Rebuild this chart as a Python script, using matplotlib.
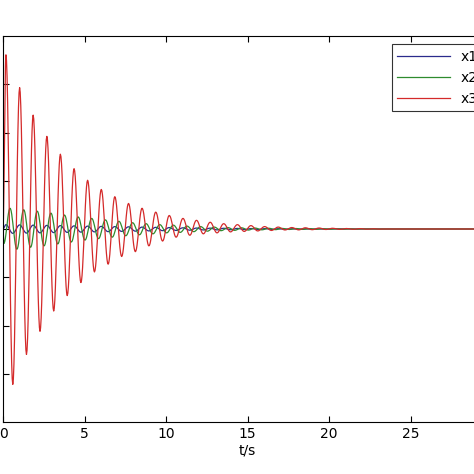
import numpy as np
import matplotlib
matplotlib.use("Agg")
import matplotlib.pyplot as plt

# extrema (time, value)
red_peak_t = [0.18,1.02,1.85,2.69,3.52,4.36,5.19,6.03,6.86,7.70,8.53,9.37,10.20,11.04,11.87,12.71,13.54,14.38,15.21,16.05,16.88,17.72,18.55,19.39,20.22,21.06,21.89,22.73]
red_peak_v = [3.61,2.93,2.36,1.92,1.55,1.25,1.01,0.82,0.67,0.53,0.43,0.35,0.28,0.22,0.18,0.14,0.11,0.09,0.07,0.05,0.04,0.03,0.025,0.02,0.015,0.01,0.008,0.005]
red_trough_t = [0.60,1.44,2.27,3.11,3.94,4.78,5.61,6.45,7.28,8.12,8.95,9.79,10.62,11.46,12.29,13.13,13.96,14.80,15.63,16.47,17.30,18.14,18.97,19.81,20.64,21.48,22.31,23.10]
red_trough_v = [-3.22,-2.60,-2.12,-1.70,-1.38,-1.11,-0.89,-0.73,-0.57,-0.47,-0.35,-0.25,-0.17,-0.13,-0.10,-0.08,-0.06,-0.05,-0.04,-0.03,-0.02,-0.018,-0.014,-0.01,-0.008,-0.006,-0.004,-0.003]

green_peak_t = [0.43,1.27,2.10,2.94,3.77,4.61,5.44,6.28,7.11,7.95,8.78,9.62,10.45,11.29,12.12,12.96,13.79,14.63,15.46,16.30,17.13,17.97,18.80,19.64,20.47,21.31,22.14]
green_peak_v = [0.43,0.40,0.37,0.33,0.29,0.25,0.22,0.19,0.16,0.13,0.11,0.09,0.08,0.06,0.05,0.04,0.03,0.025,0.02,0.015,0.012,0.01,0.008,0.006,0.004,0.003,0.002]
green_trough_t = [0.05,0.85,1.69,2.52,3.36,4.19,5.03,5.86,6.70,7.53,8.37,9.20,10.04,10.87,11.71,12.54,13.38,14.21,15.05,15.88,16.72,17.55,18.39,19.22,20.06,20.89,21.73,22.56]
green_trough_v = [-0.30,-0.42,-0.38,-0.35,-0.31,-0.27,-0.23,-0.20,-0.17,-0.14,-0.12,-0.10,-0.08,-0.07,-0.055,-0.045,-0.035,-0.028,-0.022,-0.017,-0.013,-0.01,-0.008,-0.006,-0.005,-0.004,-0.003,-0.002]

blue_amp = [0.09,0.085,0.08,0.075,0.07,0.065,0.06,0.055,0.05,0.045,0.04,0.035,0.03,0.025,0.02,0.018,0.015,0.012,0.01,0.008,0.006,0.005,0.004,0.003,0.002,0.002,0.001,0.001]

t_end = 30

def series(pt, pv, tt, tv):
    pts = sorted(list(zip(pt, pv)) + list(zip(tt, tv)))
    t = [0.0] + [p[0] for p in pts] + [23.3, t_end]
    v = [0.0] + [p[1] for p in pts] + [0.0, 0.0]
    # smooth half-cosine joins between the read extrema (drawing only)
    xs, ys = [], []
    s = np.linspace(0, 1, 12, endpoint=False)
    w = (1 - np.cos(np.pi * s)) / 2
    for i in range(len(t) - 1):
        xs.extend(t[i] + (t[i + 1] - t[i]) * s)
        ys.extend(v[i] + (v[i + 1] - v[i]) * w)
    xs.append(t[-1]); ys.append(v[-1])
    return np.array(xs), np.array(ys)

fig = plt.figure(figsize=(4.74, 4.74), dpi=100)
ax = fig.add_axes([3/474, 52/474, 489/474, 386/474])

bt, bv = series(red_peak_t, blue_amp, red_trough_t, [-a for a in blue_amp])
gt, gv = series(green_peak_t, green_peak_v, green_trough_t, green_trough_v)
rt, rv = series(red_peak_t, red_peak_v, red_trough_t, red_trough_v)

ax.plot(bt, bv, color="#2b2b8c", lw=0.9, label="x1")
ax.plot(gt, gv, color="#2e8b2e", lw=0.9, label="x2")
ax.plot(rt, rv, color="#d42a2a", lw=0.9, label="x3")

ax.set_xlim(0, 30)
ax.set_ylim(-4, 4)
ax.set_xticks([0, 5, 10, 15, 20, 25])
ax.set_yticks(np.arange(-3, 4, 1))
ax.tick_params(direction="in", top=True, right=True, labelsize=10, length=4,
               labelleft=False)
ax.set_xlabel("t/s", fontsize=10, labelpad=2)
leg = ax.legend(loc="upper right", fancybox=False, edgecolor="black", fontsize=10,
                borderaxespad=0.6, handlelength=3.8)
leg.get_frame().set_linewidth(0.8)

fig.savefig("out.png", dpi=100)
